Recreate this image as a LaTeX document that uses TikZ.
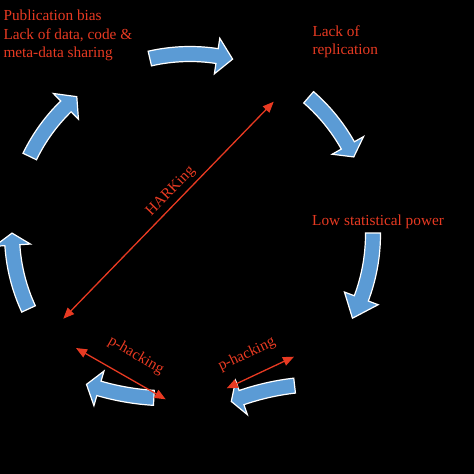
\documentclass[tikz,border=0pt]{standalone}
\usepackage{fontspec}
\setmainfont{Liberation Serif}
\usetikzlibrary{arrows.meta}

\definecolor{harkred}{RGB}{232,58,34}
\definecolor{cycleblue}{RGB}{91,155,213}

\tikzset{
  blockarrow/.style={fill=cycleblue, draw=white, line width=1.2pt, line join=miter},
  redarrow/.style={harkred, line width=1.3pt, {Triangle[length=11pt,width=9pt]}-{Triangle[length=11pt,width=9pt]}},
  redtext/.style={text=harkred, font=\fontsize{15.3}{18.3}\selectfont, inner sep=0pt, align=left}
}

% curved block arrow: centre, radius, tail angle, head-back angle, tip angle
\newcommand{\cyclearrow}[5]{%
  \draw[blockarrow, shift={(#1)}] ({#3}:{#2+7.5}) arc[start angle=#3, end angle=#4, radius=#2+7.5]
    -- ({#4}:{#2+18}) -- ({#5}:{#2}) -- ({#4}:{#2-18})
    -- ({#4}:{#2-7.5}) arc[start angle=#4, end angle=#3, radius=#2-7.5] -- cycle;}

\begin{document}
\begin{tikzpicture}[x=1pt, y=1pt]
	% Background
	\useasboundingbox (0,0) rectangle (474,474);
	\fill[black] (0,0) rectangle (474,474);
	
	% Labels (base = last line)
	\node[redtext, anchor=base west] (pubbias) at (3.3,416.5) {Publication bias\\Lack of data, code \&\\meta-data sharing};
	\node[redtext, anchor=base west] (lackrep) at (312.3,419) {Lack of\\replication};
	\node[redtext, anchor=base west] (lowpower) at (312,248) {Low statistical power};
	
	% Cycle arrows
	\cyclearrow{190,240}{178}{204.9}{183.6}{179.7}
	\cyclearrow{190,240}{178}{154.2}{134.2}{129.5}
	\cyclearrow{190,240}{180}{102.9}{81.35}{76.3}
	\cyclearrow{190,240}{181}{49.05}{29.3}{25.2}
	\cyclearrow{190,240}{183}{0.3}{-20.6}{-27.4}
	\cyclearrow{322.9,-160}{250}{96.5}{109.0}{111.5}
	\cyclearrow{168.7,325.7}{250}{-93.4}{-106.2}{-109.2}
	
	% HARKing
	\coordinate (hark-lo) at (63.3,155.3);
	\coordinate (hark-hi) at (273.7,372.3);
	\draw[redarrow] (hark-lo) -- (hark-hi) node[redtext, pos=0.55, sloped, above=4pt] (harking) {HARKing};
	
	% p-hacking
	\coordinate (phack-l1) at (76,126);
	\coordinate (phack-l2) at (165.7,74.7);
	\draw[redarrow] (phack-l1) -- (phack-l2) node[redtext, pos=0.54, sloped, above=15.5pt] (phackleft) {p-hacking};
	\coordinate (phack-r1) at (226.7,85.7);
	\coordinate (phack-r2) at (294,117.3);
	\draw[redarrow] (phack-r1) -- (phack-r2) node[redtext, pos=0.44, sloped, above=14.5pt] (phackright) {p-hacking};
\end{tikzpicture}
\end{document}
